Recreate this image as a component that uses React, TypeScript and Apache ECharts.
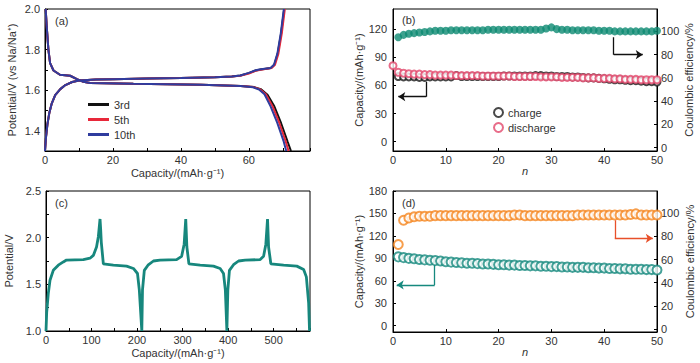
import React, { useEffect, useRef } from 'react';
import * as echarts from 'echarts';

type P = [number, number];

// ---------- (a) charge/discharge profiles ----------
const chargeA3: P[] = [[0,1.30],[0.3,1.37],[0.7,1.43],[1.3,1.49],[2,1.535],[3,1.575],[4.5,1.605],[6,1.625],[8,1.64],[10,1.648],[15,1.652],[20,1.654],[30,1.657],[40,1.66],[50,1.664],[55,1.667],[57.5,1.672],[60,1.684],[62,1.697],[63.5,1.702],[66.5,1.709],[67.5,1.725],[68.5,1.78],[69.5,1.88],[70.4,2.0]];
const chargeA5: P[] = [[0,1.30],[0.3,1.37],[0.7,1.43],[1.3,1.49],[2,1.535],[3,1.575],[4.5,1.605],[6,1.625],[8,1.64],[10,1.648],[15,1.652],[20,1.654],[30,1.657],[40,1.66],[50,1.664],[55,1.667],[57.5,1.671],[60,1.682],[62,1.695],[63.5,1.701],[66.7,1.709],[67.7,1.725],[68.7,1.78],[69.7,1.88],[70.6,2.0]];
const chargeA10: P[] = [[0,1.30],[0.3,1.37],[0.7,1.43],[1.3,1.49],[2,1.535],[3,1.575],[4.5,1.605],[6,1.625],[8,1.64],[10,1.648],[15,1.652],[20,1.654],[30,1.657],[40,1.66],[50,1.664],[55,1.667],[57.5,1.672],[60,1.685],[62,1.698],[63.5,1.703],[66.4,1.709],[67.4,1.725],[68.4,1.78],[69.4,1.88],[70.3,2.0]];
const dischargeA3: P[] = [[0.2,2.0],[0.5,1.914],[1,1.80],[1.5,1.733],[2.5,1.697],[4.4,1.676],[7.4,1.671],[9.4,1.654],[11.3,1.641],[13.3,1.635],[26,1.631],[46,1.626],[57.6,1.621],[61.6,1.615],[63.5,1.605],[65.5,1.577],[67.5,1.52],[69.5,1.437],[71.4,1.347],[72.4,1.30]];
const dischargeA5: P[] = [[0.2,2.0],[0.5,1.914],[1,1.80],[1.5,1.733],[2.5,1.697],[4.4,1.676],[7.4,1.671],[9.4,1.654],[11.3,1.641],[13.3,1.635],[26,1.631],[46,1.626],[57.6,1.621],[61.4,1.615],[63.2,1.605],[65,1.58],[67,1.52],[69,1.437],[70.8,1.35],[71.7,1.30]];
const dischargeA10: P[] = [[0.2,2.0],[0.5,1.914],[1,1.80],[1.5,1.733],[2.5,1.697],[4.4,1.676],[7.4,1.671],[9.4,1.654],[11.3,1.641],[13.3,1.635],[26,1.631],[46,1.626],[57.6,1.621],[61.2,1.614],[63,1.603],[64.6,1.58],[66.4,1.52],[68.4,1.437],[70.2,1.35],[71,1.30]];
const cycleNamesA = ['3rd', '5th', '10th'];

// ---------- (b) cycling ----------
const chargeB = [69.5,69,69,69,68.5,68.5,69,69,69,69,69,70.5,69.5,69.5,69.5,69.5,69.5,69.5,69.5,69.5,70,70,70,70,70,70,70.5,70.5,70,70,69.5,69.5,69.5,69,69,68.5,68,68,67.5,67,66.5,66,66,65.5,65,65,64.5,64,64,63.5];
const dischargeB = [81,74,73,72.5,72,72,71.5,71.5,71,71,71,71,70.5,70.5,70.5,70.5,70.5,70,70,70,70,70,70,69.5,69.5,69.5,69.5,69.5,69,69,69,69,68.5,68.5,68.5,68.5,68,68,68,67.5,67.5,67.5,67,67,66.5,66.5,66.5,66,66,66,66];
const ceB = [95,97,98,98.5,99,99.5,100,100.5,100.5,100.5,101,101,101,101,101,101,101,101.5,101.5,101.5,101.5,101.5,101.5,101.5,101.5,101.5,101.5,101.5,102.5,103.5,102,101.5,101.5,101,101,101,101,101,100.5,100.5,100.5,100,100,100,100,100,100,100,100,100.5];

// ---------- (c) galvanostatic cycles ----------
const profileC: P[] = [[0,1.0],[1.5,1.2],[5,1.40],[8.8,1.544],[16,1.65],[27,1.705],[38,1.74],[45,1.76],[82,1.765],[96.7,1.78],[104,1.81],[111,1.9],[115,2.01],[118.7,2.2],[120,2.1],[121.5,1.95],[126,1.72],[148,1.705],[177,1.695],[192,1.67],[201,1.616],[205,1.44],[210.5,1.0],[212,1.44],[216,1.65],[224,1.705],[236,1.75],[250.5,1.76],[287,1.765],[298,1.80],[303.5,1.93],[307,2.2],[309.5,1.9],[314,1.72],[338.7,1.705],[368,1.695],[382.6,1.67],[390,1.616],[394,1.44],[397.4,1.0],[399.5,1.44],[403,1.65],[412,1.71],[423,1.75],[437.6,1.76],[470.6,1.765],[478,1.80],[483,1.93],[486.7,2.2],[489,1.9],[494,1.72],[522,1.705],[551,1.695],[566,1.66],[572,1.58],[577,1.3],[579,1.0]];

// ---------- (d) cycling ----------
const capD = [92,91,90,89.5,88.5,88,87.5,87,86.5,85.5,85,84.5,84,83.5,83.5,83,82.5,82.5,82,81.5,81.5,81,81,80.5,80.5,80,80,79.5,79.5,79,79,78.5,78.5,78,78,78,77.5,77.5,77,77,76.5,76.5,76,76,75.5,75.5,75.5,75,75,74.5];
const ceD = [73,94,96,97,97.5,97.5,97.5,98,98,98,98,98,98,98,98,98,98,98,98,98,98,98,98.5,98.5,98,98,98,98,98,98,98,98,98,98,98.5,98.5,98.5,98.5,98.5,98.5,98.5,98.5,98.5,98.5,99,99.5,98.5,98.5,98.5,98.5];

// annotation arrows (data units): start, corner, tip
const arrowB1: P[] = [[41.8, 95], [41.8, 80], [47.3, 80]];
const arrowB2: P[] = [[6.3, 64], [6.3, 48], [1, 48]];
const arrowD1: P[] = [[7.9, 81], [7.9, 54.5], [0.7, 54.5]];
const arrowD2: P[] = [[42, 94], [42, 78.4], [49.2, 78.4]];

const FONT = '"Liberation Sans", Arial, sans-serif';
const TXT = '#333';

function App() {
  const ref = useRef<HTMLDivElement>(null);
  useEffect(() => {
    if (!ref.current) return;
    const chart = echarts.init(ref.current, undefined, { renderer: 'svg' });
    const axisLine = { show: true, onZero: false, lineStyle: { color: '#000', width: 1 } };
    const tick = { show: true, inside: true, length: 3, lineStyle: { color: '#000' } };
    const label = { color: TXT, fontSize: 11, fontFamily: FONT };
    const nameStyle = { color: TXT, fontSize: 11, fontFamily: FONT };
    const grid = (left: number, top: number, width: number, height: number) => ({ left, top, width, height, show: true, borderColor: '#000', borderWidth: 1, backgroundColor: 'transparent', containLabel: false });
    const nB = chargeB.map((_, i) => i + 1);
    const colorsA = ['#111111', '#e8283a', '#2f3c9e'];
    const chargesA = [chargeA3, chargeA5, chargeA10];
    const dischargesA = [dischargeA3, dischargeA5, dischargeA10];
    const seriesA: any[] = [];
    cycleNamesA.forEach((nm, i) => {
      [chargesA[i], dischargesA[i]].forEach((d) => {
        seriesA.push({ type: 'line', name: nm, xAxisIndex: 0, yAxisIndex: 0, data: d, showSymbol: false, symbol: 'none', lineStyle: { color: colorsA[i], width: 2 }, itemStyle: { color: colorsA[i] }, z: 2 + i });
      });
    });
    const arrow = (pts: P[], xi: number, yi: number, color: string) => [
      { type: 'lines', coordinateSystem: 'cartesian2d', xAxisIndex: xi, yAxisIndex: yi,
        symbol: ['none', 'none'], silent: true, z: 10,
        lineStyle: { color, width: 1.3, opacity: 1, curveness: 0 },
        data: [{ coords: [pts[0], pts[1]] }] },
      { type: 'lines', coordinateSystem: 'cartesian2d', xAxisIndex: xi, yAxisIndex: yi,
        symbol: ['none', 'arrow'], symbolSize: 7, silent: true, z: 10,
        lineStyle: { color, width: 1.3, opacity: 1, curveness: 0 },
        data: [{ coords: [pts[1], pts[2]] }] },
    ];
    const option: any = {
      animation: false,
      backgroundColor: '#fff',
      textStyle: { fontFamily: FONT },
      grid: [grid(45, 9, 265, 142), grid(393, 9, 264, 142), grid(46, 191, 264, 140), grid(393, 191, 264, 141)],
      xAxis: [
        { type: 'value', gridIndex: 0, min: 0, max: 78, interval: 10, axisLine, axisTick: tick, splitLine: { show: false },
          axisLabel: { ...label, margin: 3, formatter: (v: number) => (Math.round(v) % 20 === 0 ? String(Math.round(v)) : '') },
          name: 'Capacity/(mAh·g⁻¹)', nameLocation: 'middle', nameGap: 16, nameTextStyle: nameStyle },
        { type: 'value', gridIndex: 1, min: 0, max: 50, interval: 10, axisLine, axisTick: tick, splitLine: { show: false },
          axisLabel: { ...label, margin: 3 },
          name: 'n', nameLocation: 'middle', nameGap: 14, nameTextStyle: { ...nameStyle, fontStyle: 'italic' } },
        { type: 'value', gridIndex: 2, min: 0, max: 580, interval: 50, axisLine, axisTick: tick, splitLine: { show: false },
          axisLabel: { ...label, margin: 3, formatter: (v: number) => (Math.round(v) % 100 === 0 ? String(Math.round(v)) : '') },
          name: 'Capacity/(mAh·g⁻¹)', nameLocation: 'middle', nameGap: 16, nameTextStyle: nameStyle },
        { type: 'value', gridIndex: 3, min: 0, max: 50, interval: 10, axisLine, axisTick: tick, splitLine: { show: false },
          axisLabel: { ...label, margin: 3 },
          name: 'n', nameLocation: 'middle', nameGap: 14, nameTextStyle: { ...nameStyle, fontStyle: 'italic' } },
      ],
      yAxis: [
        { type: 'value', gridIndex: 0, min: 1.3, max: 2.0, interval: 0.1, axisLine, axisTick: tick, splitLine: { show: false },
          axisLabel: { ...label, margin: 5, formatter: (v: number) => { const k = Math.round(v * 10); return k % 2 === 0 && k >= 14 ? (k / 10).toFixed(1) : ''; } },
          name: 'Potential/V (vs Na/Na⁺)', nameLocation: 'middle', nameGap: 28, nameTextStyle: nameStyle },
        { type: 'value', gridIndex: 1, min: -10, max: 141.5, axisLine, axisTick: { ...tick, customValues: [0, 30, 60, 90, 120] }, splitLine: { show: false },
          axisLabel: { ...label, margin: 6, customValues: [0, 30, 60, 90, 120] },
          name: 'Capacity/(mAh·g⁻¹)', nameLocation: 'middle', nameGap: 29, nameTextStyle: nameStyle },
        { type: 'value', gridIndex: 1, position: 'right', min: -3, max: 119.3, axisLine, axisTick: { ...tick, customValues: [0, 20, 40, 60, 80, 100] }, splitLine: { show: false },
          axisLabel: { ...label, margin: 4, customValues: [0, 20, 40, 60, 80, 100] },
          name: 'Coulombic efficiency/%', nameLocation: 'middle', nameGap: 26, nameRotate: 90, nameTextStyle: nameStyle },
        { type: 'value', gridIndex: 2, min: 1.0, max: 2.5, interval: 0.25, axisLine, axisTick: tick, splitLine: { show: false },
          axisLabel: { ...label, margin: 5, formatter: (v: number) => { const k = Math.round(v * 4); return k % 2 === 0 ? (k / 4).toFixed(1) : ''; } },
          name: 'Potential/V', nameLocation: 'middle', nameGap: 32, nameTextStyle: nameStyle },
        { type: 'value', gridIndex: 3, min: -8.4, max: 180, axisLine, axisTick: { ...tick, customValues: [0, 30, 60, 90, 120, 150, 180] }, splitLine: { show: false },
          axisLabel: { ...label, margin: 6, customValues: [0, 30, 60, 90, 120, 150, 180] },
          name: 'Capacity/(mAh·g⁻¹)', nameLocation: 'middle', nameGap: 29, nameTextStyle: nameStyle },
        { type: 'value', gridIndex: 3, position: 'right', min: -2.6, max: 119.3, axisLine, axisTick: { ...tick, customValues: [0, 20, 40, 60, 80, 100] }, splitLine: { show: false },
          axisLabel: { ...label, margin: 4, customValues: [0, 20, 40, 60, 80, 100] },
          name: 'Coulombic efficiency/%', nameLocation: 'middle', nameGap: 27, nameRotate: 90, nameTextStyle: nameStyle },
      ],
      legend: [
        { data: cycleNamesA, orient: 'vertical', left: 83, top: 93, icon: 'rect', itemWidth: 21, itemHeight: 3, itemGap: 2, selectedMode: false,
          textStyle: { color: TXT, fontSize: 11, fontFamily: FONT, lineHeight: 13 } },
        { data: ['charge', 'discharge'], orient: 'vertical', left: 488, top: 102, itemWidth: 9, itemHeight: 9, itemGap: 4, selectedMode: false,
          textStyle: { color: TXT, fontSize: 11, fontFamily: FONT } },
      ],
      graphic: [
        { type: 'text', left: 55, top: 15, style: { text: '(a)', fontSize: 11, fontFamily: FONT, fill: TXT } },
        { type: 'text', left: 402, top: 14, style: { text: '(b)', fontSize: 11, fontFamily: FONT, fill: TXT } },
        { type: 'text', left: 55, top: 197, style: { text: '(c)', fontSize: 11, fontFamily: FONT, fill: TXT } },
        { type: 'text', left: 402, top: 197, style: { text: '(d)', fontSize: 11, fontFamily: FONT, fill: TXT } },
      ],
      series: [
        ...seriesA,
        { type: 'scatter', name: 'charge', xAxisIndex: 1, yAxisIndex: 1, data: nB.map((n, i) => [n, chargeB[i]]),
          symbol: 'emptyCircle', symbolSize: 7, itemStyle: { color: '#1a1a1a', borderColor: '#1a1a1a', borderWidth: 1.3 }, z: 3 },
        { type: 'scatter', name: 'discharge', xAxisIndex: 1, yAxisIndex: 1, data: dischargeB.map((v, i) => [i, v]),
          symbol: 'emptyCircle', symbolSize: 7, itemStyle: { color: '#e2476b', borderColor: '#e2476b', borderWidth: 1.3 }, z: 4 },
        { type: 'scatter', name: 'CE-b', xAxisIndex: 1, yAxisIndex: 2, data: nB.map((n, i) => [n, ceB[i]]),
          symbol: 'circle', symbolSize: 8, itemStyle: { color: '#0d8a72' }, z: 4 },
        { type: 'line', name: 'profile-c', xAxisIndex: 2, yAxisIndex: 3, data: profileC, showSymbol: false, symbol: 'none',
          lineStyle: { color: '#17877d', width: 2.8 }, z: 3 },
        { type: 'scatter', name: 'cap-d', xAxisIndex: 3, yAxisIndex: 4, data: nB.map((n, i) => [n, capD[i]]),
          symbol: 'emptyCircle', symbolSize: 9, itemStyle: { color: '#16897e', borderColor: '#16897e', borderWidth: 1.8 }, z: 3 },
        { type: 'scatter', name: 'ce-d', xAxisIndex: 3, yAxisIndex: 5, data: nB.map((n, i) => [n, ceD[i]]),
          symbol: 'emptyCircle', symbolSize: 9, itemStyle: { color: '#f5861f', borderColor: '#f5861f', borderWidth: 1.8 }, z: 3 },
        ...arrow(arrowB1, 1, 2, '#111'),
        ...arrow(arrowB2, 1, 1, '#111'),
        ...arrow(arrowD1, 3, 4, '#16897e'),
        ...arrow(arrowD2, 3, 5, '#e8502a'),
      ],
    };
    chart.setOption(option);
    return () => chart.dispose();
  }, []);
  return <div ref={ref} style={{ position: 'fixed', left: 0, top: 0, width: 700, height: 363, background: '#fff' }} />;
}

export default App;
